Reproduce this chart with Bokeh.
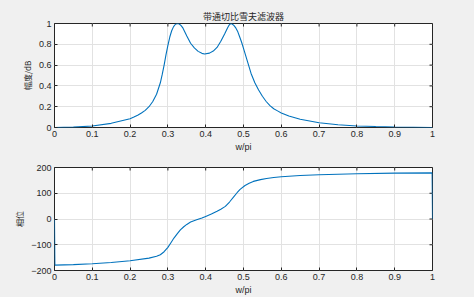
from bokeh.plotting import figure
from bokeh.layouts import column
from bokeh.models import Range1d, FixedTicker
from bokeh.embed import file_html
from bokeh.resources import INLINE

title_text = "带通切比雪夫滤波器"
x_label = "w/pi"
mag_label = "幅度/dB"
phase_label = "相位"

x_ticks = [0, 0.1, 0.2, 0.3, 0.4, 0.5, 0.6, 0.7, 0.8, 0.9, 1]
mag_ticks = [0, 0.2, 0.4, 0.6, 0.8, 1]
phase_ticks = [-200, -100, 0, 100, 200]

w_mag = [0, 0.05, 0.1, 0.15, 0.2, 0.21, 0.22, 0.23, 0.24, 0.25, 0.26, 0.27, 0.28,
         0.285, 0.29, 0.295, 0.3, 0.305, 0.31, 0.315, 0.32, 0.325, 0.33, 0.335,
         0.34, 0.35, 0.36, 0.37, 0.38, 0.39, 0.397, 0.41, 0.42, 0.43, 0.44, 0.45,
         0.458, 0.462, 0.466, 0.47, 0.475, 0.48, 0.485, 0.49, 0.495, 0.5, 0.505,
         0.51, 0.515, 0.52, 0.53, 0.54, 0.55, 0.56, 0.57, 0.58, 0.59, 0.6, 0.62,
         0.65, 0.7, 0.75, 0.8, 0.85, 0.9, 0.95, 1.0]
mag = [0, 0.004, 0.015, 0.04, 0.085, 0.1, 0.118, 0.14, 0.165, 0.2, 0.25, 0.32, 0.43,
       0.51, 0.6, 0.7, 0.79, 0.87, 0.93, 0.97, 0.993, 1.0, 0.995, 0.98,
       0.955, 0.88, 0.81, 0.765, 0.732, 0.713, 0.707, 0.715, 0.735, 0.77, 0.83, 0.9,
       0.96, 0.985, 1.0, 0.995, 0.98, 0.955, 0.92, 0.87, 0.82, 0.76, 0.7,
       0.64, 0.58, 0.52, 0.43, 0.36, 0.3, 0.25, 0.21, 0.18, 0.16, 0.14, 0.11,
       0.08, 0.046, 0.027, 0.015, 0.009, 0.005, 0.002, 0]

w_phase = [0, 0.001, 0.05, 0.1, 0.15, 0.2, 0.25, 0.27, 0.28, 0.29, 0.3, 0.308,
           0.316, 0.325, 0.333, 0.342, 0.35, 0.36, 0.376, 0.39, 0.4, 0.415, 0.43,
           0.44, 0.452, 0.463, 0.474, 0.483, 0.491, 0.504, 0.515, 0.526, 0.545,
           0.561, 0.58, 0.6, 0.65, 0.7, 0.75, 0.8, 0.9, 0.999, 1.0]
phase = [0, -179, -177, -174, -169, -162, -152, -145, -139, -127, -110, -92,
         -74, -57, -42, -30, -21, -12, -3, 4, 10, 19, 30,
         38, 49, 66, 86, 102, 115, 130, 139, 146, 153,
         157, 161, 164, 169, 172, 174, 176, 178, 179, 0]

BG = "#f0f0f0"
AX = "#262626"
FONT = "Liberation Sans"
CJK = "Noto Sans CJK SC"


def style_axis(ax):
    ax.axis_line_color = None
    ax.major_tick_in = 3
    ax.major_tick_out = 0
    ax.minor_tick_in = 0
    ax.minor_tick_out = 0
    ax.major_tick_line_color = AX
    ax.major_label_text_font = FONT
    ax.major_label_text_font_size = "9px"
    ax.major_label_text_color = AX
    ax.major_label_standoff = 3


def make_fig(height, top, bottom, yr, yticks, ylabel, xs, ys, title=None):
    p = figure(width=474, height=height, x_range=Range1d(0, 1), y_range=Range1d(*yr),
               output_backend="svg", toolbar_location=None,
               min_border_left=54, min_border_right=42,
               min_border_top=top, min_border_bottom=bottom,
               background_fill_color="white", border_fill_color=BG,
               outline_line_color=AX, outline_line_width=1)
    if title:
        p.title.text = title
        p.title.align = "center"
        p.title.text_font = CJK
        p.title.text_font_size = "9px"
        p.title.text_font_style = "normal"
        p.title.text_color = AX
        p.title.standoff = 2
    p.grid.grid_line_color = "#e2e2e2"
    p.grid.grid_line_width = 1
    p.xgrid.ticker = FixedTicker(ticks=x_ticks)
    p.ygrid.ticker = FixedTicker(ticks=yticks)
    # inward ticks on the top and right edges (MATLAB box style)
    ymin, ymax = yr
    dy = (ymax - ymin) * 3.0 / 103.0
    dx = 3.0 / 378.0
    p.segment(x0=x_ticks, y0=[ymax] * len(x_ticks), x1=x_ticks,
              y1=[ymax - dy] * len(x_ticks), line_color=AX, line_width=1)
    p.segment(x0=[1] * len(yticks), y0=yticks, x1=[1 - dx] * len(yticks),
              y1=yticks, line_color=AX, line_width=1)
    p.line(xs, ys, line_color="#0072BD", line_width=1.1)
    p.xaxis.ticker = FixedTicker(ticks=x_ticks)
    p.yaxis.ticker = FixedTicker(ticks=yticks)
    p.xaxis.axis_label = x_label
    p.xaxis.axis_label_text_font = FONT
    p.xaxis.axis_label_text_font_size = "9px"
    p.xaxis.axis_label_text_font_style = "normal"
    p.xaxis.axis_label_text_color = AX
    p.xaxis.axis_label_standoff = 2
    p.yaxis.axis_label = ylabel
    p.yaxis.axis_label_text_font = CJK
    p.yaxis.axis_label_text_font_size = "8px"
    p.yaxis.axis_label_text_font_style = "normal"
    p.yaxis.axis_label_text_color = AX
    p.yaxis.axis_label_standoff = 3
    for ax in p.xaxis + p.yaxis:
        style_axis(ax)
    return p


p1 = make_fig(155, 23, 28, (0, 1), mag_ticks, mag_label, w_mag, mag, title_text)
p2 = make_fig(142, 12, 27, (-200, 200), phase_ticks, phase_label, w_phase, phase)

layout = column(p1, p2, spacing=0, styles={"background-color": BG})
open("out.html", "w").write(file_html(layout, INLINE))
